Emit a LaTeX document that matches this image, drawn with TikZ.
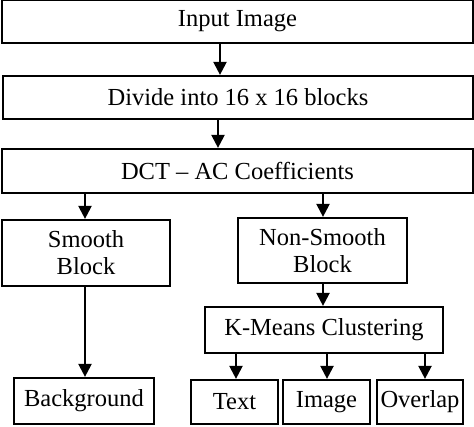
\documentclass[tikz,border=0pt]{standalone}
\usepackage{fontspec}
\setmainfont{Liberation Serif}
\usetikzlibrary{arrows.meta}
\begin{document}
\begin{tikzpicture}[x=1pt,y=-1pt,
  box/.style={draw,line width=2.2pt,inner sep=0pt,align=center,font=\fontsize{24.5}{27}\selectfont},
  arr/.style={line width=2.2pt,-{Triangle[length=13pt,width=13pt]}}]
\useasboundingbox (0,0) rectangle (474,426);
\node[box,minimum width=471,minimum height=43] (in1) at (237.5,21.5) {Input Image};
\node[box,minimum width=470,minimum height=43] (div) at (238,97.5) {Divide into 16 x 16 blocks};
\node[box,minimum width=471,minimum height=44] (dct) at (237.5,171) {DCT -- AC Coefficients};
\node[box,minimum width=168,minimum height=66] (sm) at (86,253) {Smooth\\Block};
\node[box,minimum width=169,minimum height=65] (ns) at (322.5,250.5) {Non-Smooth\\Block};
\node[box,minimum width=140,minimum height=46] (bg) at (84,401) {Background};
\node[box,minimum width=238,minimum height=46] (km) at (324,330) {K-Means Clustering};
\node[box,minimum width=87,minimum height=44] (tx) at (234.5,402) {Text};
\node[box,minimum width=87,minimum height=44] (im) at (326.5,402) {Image};
\node[box,minimum width=86,minimum height=44] (ov) at (420,402) {Overlap};
\coordinate (c1) at (220,0);
\coordinate (c2) at (218,0);
\coordinate (c3) at (85,0);
\coordinate (c4) at (323,0);
\coordinate (c5) at (236,0);
\coordinate (c6) at (327,0);
\coordinate (c7) at (425,0);
\draw[arr] (in1.south -| c1) -- (div.north -| c1);
\draw[arr] (div.south -| c2) -- (dct.north -| c2);
\draw[arr] (dct.south -| c3) -- (sm.north -| c3);
\draw[arr] (dct.south -| c4) -- (ns.north -| c4);
\draw[arr] (sm.south -| c3) -- (bg.north -| c3);
\draw[arr] (ns.south -| c4) -- (km.north -| c4);
\draw[arr] (km.south -| c5) -- (tx.north -| c5);
\draw[arr] (km.south -| c6) -- (im.north -| c6);
\draw[arr] (km.south -| c7) -- (ov.north -| c7);
\end{tikzpicture}
\end{document}
